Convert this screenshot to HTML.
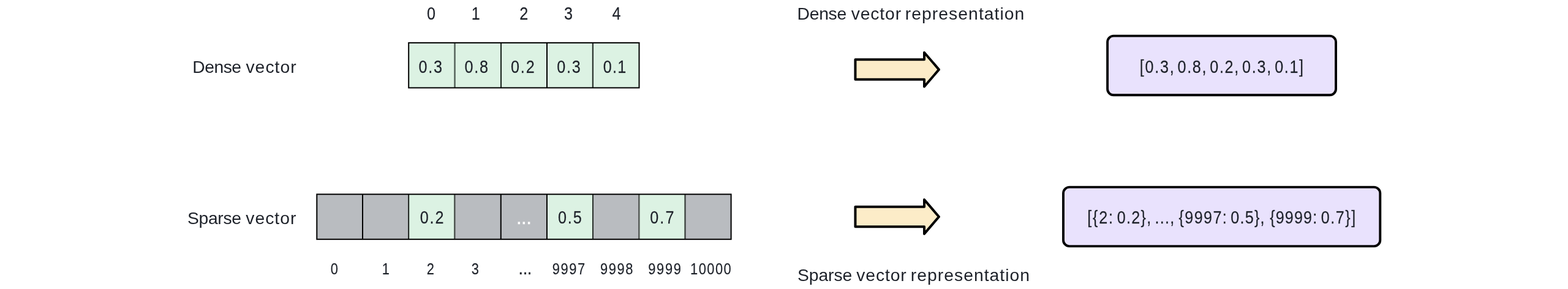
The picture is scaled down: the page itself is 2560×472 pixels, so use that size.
<!DOCTYPE html>
<html lang="en"><head><meta charset="utf-8"><title>Dense vs sparse vector representation</title>
<style>
html,body{margin:0;padding:0;background:#fff}
body{width:2560px;height:472px;overflow:hidden}
svg{display:block;will-change:transform}
text{font-family:"Liberation Sans",sans-serif;white-space:pre}
</style></head><body>
<svg width="2560" height="472" viewBox="0 0 2560 472">
<rect width="2560" height="472" fill="#fff"/>
<g>
<rect x="667.20" y="69.9" width="75.30" height="73.5" fill="#dcf2e3"/>
<rect x="742.50" y="69.9" width="75.50" height="73.5" fill="#dcf2e3"/>
<rect x="818.00" y="69.9" width="75.00" height="73.5" fill="#dcf2e3"/>
<rect x="893.00" y="69.9" width="74.90" height="73.5" fill="#dcf2e3"/>
<rect x="967.90" y="69.9" width="75.60" height="73.5" fill="#dcf2e3"/>
<line x1="742.50" y1="69.9" x2="742.50" y2="143.4" stroke="#55625a" stroke-width="2.5"/>
<line x1="818.00" y1="69.9" x2="818.00" y2="143.4" stroke="#1c2620" stroke-width="2.1"/>
<line x1="893.00" y1="69.9" x2="893.00" y2="143.4" stroke="#000" stroke-width="2"/>
<line x1="967.90" y1="69.9" x2="967.90" y2="143.4" stroke="#2e3832" stroke-width="2.3"/>
<rect x="667.2" y="69.9" width="376.3" height="73.5" fill="none" stroke="#000" stroke-width="2"/>
<rect x="517.30" y="317.3" width="74.70" height="73.5" fill="#b9bcc0"/>
<rect x="592.00" y="317.3" width="75.15" height="73.5" fill="#b9bcc0"/>
<rect x="667.15" y="317.3" width="75.15" height="73.5" fill="#dcf2e3"/>
<rect x="742.30" y="317.3" width="75.45" height="73.5" fill="#b9bcc0"/>
<rect x="817.75" y="317.3" width="75.20" height="73.5" fill="#b9bcc0"/>
<rect x="892.95" y="317.3" width="75.05" height="73.5" fill="#dcf2e3"/>
<rect x="968.00" y="317.3" width="75.30" height="73.5" fill="#b9bcc0"/>
<rect x="1043.30" y="317.3" width="75.20" height="73.5" fill="#dcf2e3"/>
<rect x="1118.50" y="317.3" width="75.10" height="73.5" fill="#b9bcc0"/>
<line x1="592.00" y1="317.3" x2="592.00" y2="390.8" stroke="#000" stroke-width="2"/>
<line x1="667.15" y1="317.3" x2="667.15" y2="390.8" stroke="#1a1f1c" stroke-width="2"/>
<line x1="742.30" y1="317.3" x2="742.30" y2="390.8" stroke="#4a504c" stroke-width="2.4"/>
<line x1="817.75" y1="317.3" x2="817.75" y2="390.8" stroke="#000" stroke-width="2"/>
<line x1="892.95" y1="317.3" x2="892.95" y2="390.8" stroke="#000" stroke-width="2"/>
<line x1="968.00" y1="317.3" x2="968.00" y2="390.8" stroke="#2a2f2c" stroke-width="2.1"/>
<line x1="1043.30" y1="317.3" x2="1043.30" y2="390.8" stroke="#555a57" stroke-width="2.5"/>
<line x1="1118.50" y1="317.3" x2="1118.50" y2="390.8" stroke="#3a3f3c" stroke-width="2.3"/>
<rect x="517.3" y="317.3" width="676.3" height="73.5" fill="none" stroke="#000" stroke-width="2"/>
<path d="M1396.45 97.35 H1509.00 V85.70 L1532.95 113.60 L1509.00 141.50 V129.85 H1396.45 Z" fill="#fcecc8" stroke="#000" stroke-width="4.0" stroke-linejoin="round"/>
<path d="M1396.45 337.75 H1509.00 V326.10 L1532.95 354.00 L1509.00 381.90 V370.25 H1396.45 Z" fill="#fcecc8" stroke="#000" stroke-width="4.0" stroke-linejoin="round"/>
<rect x="1808.1" y="58.6" width="372.95" height="96.60" rx="10" fill="#e9e2fd" stroke="#000" stroke-width="3.9"/>
<rect x="1736.0" y="305.6" width="517.30" height="96.55" rx="10" fill="#e9e2fd" stroke="#000" stroke-width="3.9"/>
</g>
<g>
<text transform="scale(0.84 1)" y="32.00" font-size="30.0" fill="#1d2129" stroke="#1d2129" stroke-width="0.3" stroke-opacity="0.6"><tspan x="829.63">0</tspan></text>
<text transform="scale(0.84 1)" y="32.00" font-size="30.0" fill="#1d2129" stroke="#1d2129" stroke-width="0.3" stroke-opacity="0.6"><tspan x="916.31">1</tspan></text>
<text transform="scale(0.84 1)" y="32.00" font-size="30.0" fill="#1d2129" stroke="#1d2129" stroke-width="0.3" stroke-opacity="0.6"><tspan x="1009.87">2</tspan></text>
<text transform="scale(0.84 1)" y="32.00" font-size="30.0" fill="#1d2129" stroke="#1d2129" stroke-width="0.3" stroke-opacity="0.6"><tspan x="1096.45">3</tspan></text>
<text transform="scale(0.84 1)" y="32.00" font-size="30.0" fill="#1d2129" stroke="#1d2129" stroke-width="0.3" stroke-opacity="0.6"><tspan x="1189.88">4</tspan></text>
<text transform="scale(1.0 1)" y="32.00" font-size="28.3" fill="#1d2129"><tspan x="1301.50" letter-spacing="-0.27">Dense</tspan> <tspan x="1389.75" letter-spacing="0.85">vector</tspan> <tspan x="1477.80" letter-spacing="1.05">representation</tspan></text>
<text transform="scale(1.0 1)" y="119.00" font-size="28.3" fill="#1d2129"><tspan x="314.25" letter-spacing="-0.49">Dense</tspan> <tspan x="401.45" letter-spacing="1.03">vector</tspan></text>
<text transform="scale(0.84 1)" y="119.00" font-size="30.0" fill="#1d2129" stroke="#1d2129" stroke-width="0.3" stroke-opacity="0.6"><tspan x="813.75" letter-spacing="2.11">0.3</tspan></text>
<text transform="scale(0.84 1)" y="119.00" font-size="30.0" fill="#1d2129" stroke="#1d2129" stroke-width="0.3" stroke-opacity="0.6"><tspan x="903.04" letter-spacing="2.10">0.8</tspan></text>
<text transform="scale(0.84 1)" y="119.00" font-size="30.0" fill="#1d2129" stroke="#1d2129" stroke-width="0.3" stroke-opacity="0.6"><tspan x="992.76" letter-spacing="2.24">0.2</tspan></text>
<text transform="scale(0.84 1)" y="119.00" font-size="30.0" fill="#1d2129" stroke="#1d2129" stroke-width="0.3" stroke-opacity="0.6"><tspan x="1082.56" letter-spacing="1.99">0.3</tspan></text>
<text transform="scale(0.84 1)" y="119.00" font-size="30.0" fill="#1d2129" stroke="#1d2129" stroke-width="0.3" stroke-opacity="0.6"><tspan x="1172.20" letter-spacing="1.51">0.1</tspan></text>
<text transform="scale(0.84 1)" y="119.00" font-size="30.0" fill="#1d2129" stroke="#1d2129" stroke-width="0.3" stroke-opacity="0.6"><tspan x="2215.25" letter-spacing="2.07">[0.3,</tspan> <tspan x="2288.75" letter-spacing="1.97">0.8,</tspan> <tspan x="2351.49" letter-spacing="1.97">0.2,</tspan> <tspan x="2414.23" letter-spacing="2.09">0.3,</tspan> <tspan x="2477.56" letter-spacing="1.96">0.1]</tspan></text>
<text transform="scale(1.0 1)" y="366.00" font-size="28.3" fill="#1d2129"><tspan x="305.95" letter-spacing="-0.31">Sparse</tspan> <tspan x="401.25" letter-spacing="1.03">vector</tspan></text>
<text transform="scale(0.84 1)" y="365.00" font-size="30.0" fill="#1d2129" stroke="#1d2129" stroke-width="0.3" stroke-opacity="0.6"><tspan x="816.25" letter-spacing="2.29">0.2</tspan></text>
<text transform="scale(1.0 1)" y="366.00" font-size="33.0" fill="#ffffff" stroke="#ffffff" stroke-width="0.3" stroke-opacity="0.6"><tspan x="842.70" letter-spacing="-1.05">...</tspan></text>
<text transform="scale(0.84 1)" y="365.00" font-size="30.0" fill="#1d2129" stroke="#1d2129" stroke-width="0.3" stroke-opacity="0.6"><tspan x="1084.46" letter-spacing="2.28">0.5</tspan></text>
<text transform="scale(0.84 1)" y="365.00" font-size="30.0" fill="#1d2129" stroke="#1d2129" stroke-width="0.3" stroke-opacity="0.6"><tspan x="1263.51" letter-spacing="2.40">0.7</tspan></text>
<text transform="scale(0.84 1)" y="365.00" font-size="30.0" fill="#1d2129" stroke="#1d2129" stroke-width="0.3" stroke-opacity="0.6"><tspan x="2113.35" letter-spacing="2.17">[{2:</tspan> <tspan x="2171.25" letter-spacing="1.46">0.2},</tspan> <tspan x="2244.63" letter-spacing="1.50">...,</tspan> <tspan x="2291.17" letter-spacing="1.63">{9997:</tspan> <tspan x="2392.08" letter-spacing="1.44">0.5},</tspan> <tspan x="2468.07" letter-spacing="1.34">{9999:</tspan> <tspan x="2567.44" letter-spacing="1.85">0.7}]</tspan></text>
<text transform="scale(0.84 1)" y="448.00" font-size="26.0" fill="#1d2129" stroke="#1d2129" stroke-width="0.3" stroke-opacity="0.6"><tspan x="642.51">0</tspan></text>
<text transform="scale(0.84 1)" y="448.00" font-size="26.0" fill="#1d2129" stroke="#1d2129" stroke-width="0.3" stroke-opacity="0.6"><tspan x="742.43">1</tspan></text>
<text transform="scale(0.84 1)" y="448.00" font-size="26.0" fill="#1d2129" stroke="#1d2129" stroke-width="0.3" stroke-opacity="0.6"><tspan x="829.54">2</tspan></text>
<text transform="scale(0.84 1)" y="448.00" font-size="26.0" fill="#1d2129" stroke="#1d2129" stroke-width="0.3" stroke-opacity="0.6"><tspan x="916.27">3</tspan></text>
<text transform="scale(1.0 1)" y="448.00" font-size="29.0" fill="#1d2129" stroke="#1d2129" stroke-width="0.3" stroke-opacity="0.6"><tspan x="846.25" letter-spacing="-0.88">...</tspan></text>
<text transform="scale(0.84 1)" y="448.00" font-size="26.0" fill="#1d2129" stroke="#1d2129" stroke-width="0.3" stroke-opacity="0.6"><tspan x="1073.39" letter-spacing="1.98">9997</tspan></text>
<text transform="scale(0.84 1)" y="448.00" font-size="26.0" fill="#1d2129" stroke="#1d2129" stroke-width="0.3" stroke-opacity="0.6"><tspan x="1166.61" letter-spacing="1.94">9998</tspan></text>
<text transform="scale(0.84 1)" y="448.00" font-size="26.0" fill="#1d2129" stroke="#1d2129" stroke-width="0.3" stroke-opacity="0.6"><tspan x="1259.82" letter-spacing="2.06">9999</tspan></text>
<text transform="scale(0.84 1)" y="448.00" font-size="26.0" fill="#1d2129" stroke="#1d2129" stroke-width="0.3" stroke-opacity="0.6"><tspan x="1341.69" letter-spacing="1.79">10000</tspan></text>
<text transform="scale(1.0 1)" y="459.00" font-size="28.3" fill="#1d2129"><tspan x="1302.05" letter-spacing="-0.11">Sparse</tspan> <tspan x="1398.35" letter-spacing="0.85">vector</tspan> <tspan x="1486.75" letter-spacing="1.03">representation</tspan></text>
</g>
</svg>
</body></html>
